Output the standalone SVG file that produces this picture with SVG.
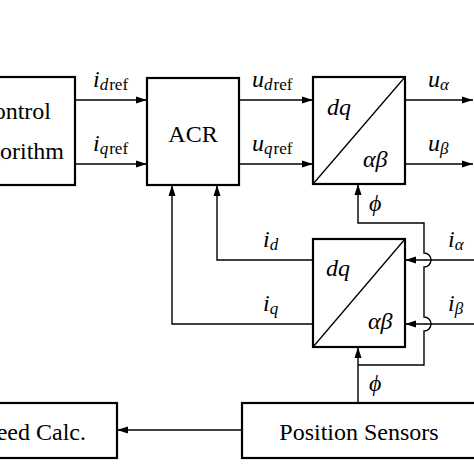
<svg xmlns="http://www.w3.org/2000/svg" width="474" height="474" viewBox="0 0 474 474">
<defs>
<marker id="ah" markerUnits="userSpaceOnUse" markerWidth="12" markerHeight="8" refX="11" refY="4" orient="auto">
<path d="M0,0.5 L11,4 L0,7.5 z" fill="#000"/>
</marker>
<style>
.box{fill:#fff;stroke:#000;stroke-width:2.2}
.diag{stroke:#000;stroke-width:1.3;fill:none}
.c{fill:none;stroke:#000;stroke-width:1.4}
.a{marker-end:url(#ah)}
text{font-family:"Liberation Serif","Times New Roman",serif;fill:#000}
.big{font-size:24px}
.it{font-style:italic}
.sub{font-size:17px}
.up{font-style:normal}
</style>
</defs>
<rect width="474" height="474" fill="#fff"/>

<g id="control">
<rect class="box" x="-10" y="77" width="85" height="108"/>
<text class="big" x="51" y="119" text-anchor="end">Control</text>
<text class="big" x="64" y="159" text-anchor="end">Algorithm</text>
</g>

<g id="acr">
<rect class="box" x="147" y="78" width="92" height="107"/>
<text class="big" x="193" y="142" text-anchor="middle">ACR</text>
</g>

<g id="dq1">
<rect class="box" x="313" y="77" width="92" height="107"/>
<line class="diag" x1="313" y1="184" x2="405" y2="77"/>
<text class="big it" x="327" y="115">dq</text>
<text class="big it" x="363" y="167">αβ</text>
</g>

<g id="dq2">
<rect class="box" x="313" y="239" width="92" height="108"/>
<line class="diag" x1="313" y1="347" x2="405" y2="239"/>
<text class="big it" x="326" y="276">dq</text>
<text class="big it" x="368" y="329">αβ</text>
</g>

<g id="position">
<rect class="box" x="242" y="403" width="245" height="55"/>
<text class="big" x="359" y="440" text-anchor="middle">Position Sensors</text>
</g>

<g id="speed">
<rect class="box" x="-10" y="403" width="127" height="55"/>
<text class="big" x="86" y="440" text-anchor="end">Speed Calc.</text>
</g>

<g id="connectors">
<path class="c a" d="M75,100 H147"/>
<path class="c a" d="M75,164 H147"/>
<path class="c a" d="M239,100 H313"/>
<path class="c a" d="M239,164 H313"/>
<path class="c a" d="M405,100 H473"/>
<path class="c a" d="M405,164 H473"/>
<path class="c a" d="M474,260 H405"/>
<path class="c a" d="M474,324 H405"/>
<path class="c a" d="M313,260 H217 V185"/>
<path class="c a" d="M313,324 H172 V185"/>
<path class="c a" d="M358,403 V347"/>
<path class="c a" d="M358,365 H424 V331 A7,7 0 0 0 424,317 V267 A7,7 0 0 0 424,253 V223 H358 V184"/>
<path class="c a" d="M242,430 H117"/>
</g>

<g id="labels">
<text class="big it" x="93" y="87">i<tspan class="sub" dy="3">d</tspan><tspan class="sub up" dx="1">ref</tspan></text>
<text class="big it" x="93" y="151">i<tspan class="sub" dy="3">q</tspan><tspan class="sub up" dx="1">ref</tspan></text>
<text class="big it" x="252" y="87">u<tspan class="sub" dy="3">d</tspan><tspan class="sub up" dx="1">ref</tspan></text>
<text class="big it" x="252" y="151">u<tspan class="sub" dy="3">q</tspan><tspan class="sub up" dx="1">ref</tspan></text>
<text class="big it" x="428" y="87">u<tspan class="sub" dy="3">α</tspan></text>
<text class="big it" x="428" y="151">u<tspan class="sub" dy="3">β</tspan></text>
<text class="big it" x="448" y="247">i<tspan class="sub" dy="3">α</tspan></text>
<text class="big it" x="448" y="311">i<tspan class="sub" dy="3">β</tspan></text>
<text class="big it" x="263" y="247">i<tspan class="sub" dy="3">d</tspan></text>
<text class="big it" x="263" y="311">i<tspan class="sub" dy="3">q</tspan></text>
<text class="big it" x="369" y="211">ϕ</text>
<text class="big it" x="369" y="391">ϕ</text>
</g>
</svg>
